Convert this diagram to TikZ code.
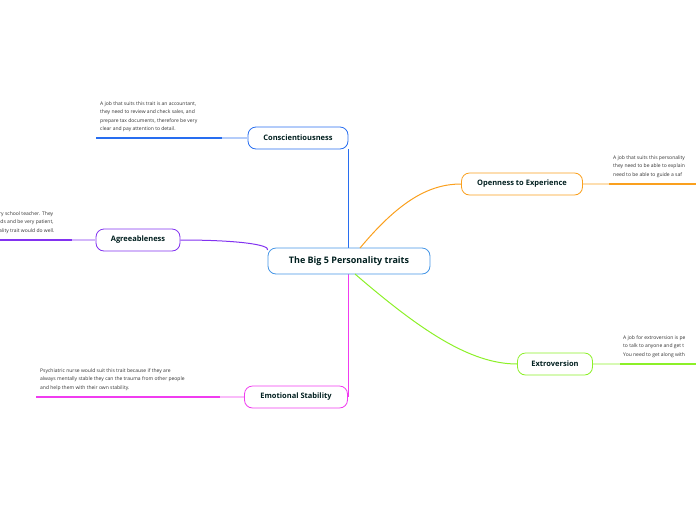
\documentclass[tikz,border=0pt]{standalone}
\usepackage{fontspec}
\setmainfont{Open Sans}
\begin{document}
\begin{tikzpicture}[x=1pt,y=-1pt,
  topic/.style={draw=#1,line width=0.8pt,rounded corners=8pt,fill=white,minimum height=22pt,inner xsep=10pt,font=\fontsize{7.5}{9}\selectfont\bfseries,text=black!60!teal!60!black},
  note/.style={anchor=north west,inner sep=0pt,align=left,font=\fontsize{5}{8.5}\selectfont,text=black!80},
  thick line/.style={draw=#1,line width=1.6pt},
  light line/.style={draw=#1!35,line width=1.6pt},
  conn/.style={draw=#1,line width=1pt}]
\useasboundingbox (0,0) rectangle (696,520);
\clip (0,0) rectangle (696,520);
\definecolor{cblue}{RGB}{40,110,240}
\definecolor{cpurp}{RGB}{130,50,240}
\definecolor{corange}{RGB}{250,160,30}
\definecolor{cgreen}{RGB}{140,240,40}
\definecolor{cmag}{RGB}{240,60,240}
\definecolor{cmain}{RGB}{70,150,230}

% connectors
\coordinate (cv1) at (348,149);
\coordinate (cv2) at (348,248);
\coordinate (cv3) at (348,274);
\coordinate (cv4) at (348,397);
\draw[conn=cblue] (cv2) -- (cv1);
\draw[conn=cmag] (cv3) -- (cv4);
\coordinate (pa) at (290,250);
\coordinate (oa) at (360,248);
\coordinate (ea) at (355,274);

\node[topic=cmain,minimum width=162pt,font=\fontsize{9}{11}\selectfont\bfseries,minimum height=26pt] (main) at (349,261) {The Big 5 Personality traits};
\node[topic=cblue,minimum width=100pt] (con) at (298,138) {Conscientiousness};
\node[topic=cpurp,minimum width=84pt] (agr) at (138,240) {Agreeableness};
\node[topic=corange,minimum width=121pt] (ope) at (522,184) {Openness to Experience};
\node[topic=cgreen,minimum width=75pt] (ext) at (555,364) {Extroversion};
\node[topic=cmag,minimum width=103pt] (emo) at (296,397) {Emotional Stability};

\draw[conn=cpurp] (agr.east) .. controls (240,240) and (270,245) .. (main.west|-pa);
\draw[conn=corange] (oa) .. controls (400,200) and (430,184) .. (ope.west);
\draw[conn=cgreen] (ea) .. controls (420,330) and (470,364) .. (ext.west);

% notes
\node[note] (n1) at (100,101) {A job that suits this trait is an accountant,\\they need to review and check sales, and\\prepare tax documents, therefore be very\\clear and pay attention to detail.};
\coordinate (l1a) at (96,138); \coordinate (l1b) at (222,138);
\draw[light line=cblue] (l1b) -- (con.west);
\draw[thick line=cblue] (l1a) -- (l1b);

\node[note] (n2) at (-1,211) {ry school teacher. They\\ids and be very patient,\\ality trait would do well.};
\coordinate (l2a) at (0,240); \coordinate (l2b) at (72,240);
\draw[light line=cpurp] (l2b) -- (agr.west);
\draw[thick line=cpurp] (l2a) -- (l2b);

\node[note] (n3) at (613,155) {A job that suits this personality\\they need to be able to explain\\need to be able to guide a saf};
\coordinate (l3a) at (609,184); \coordinate (l3b) at (696,184);
\draw[light line=corange] (ope.east) -- (l3a);
\draw[thick line=corange] (l3a) -- (l3b);

\node[note] (n4) at (623,335) {A job for extroversion is pe\\to talk to anyone and get t\\You need to get along with};
\coordinate (l4a) at (620,364); \coordinate (l4b) at (696,364);
\draw[light line=cgreen] (ext.east) -- (l4a);
\draw[thick line=cgreen] (l4a) -- (l4b);

\node[note] (n5) at (40,368) {Psychiatric nurse would suit this trait because if they are\\always mentally stable they can the trauma from other people\\and help them with their own stability.};
\coordinate (l5a) at (36,397); \coordinate (l5b) at (220,397);
\draw[light line=cmag] (l5b) -- (emo.west);
\draw[thick line=cmag] (l5a) -- (l5b);
\end{tikzpicture}
\end{document}
